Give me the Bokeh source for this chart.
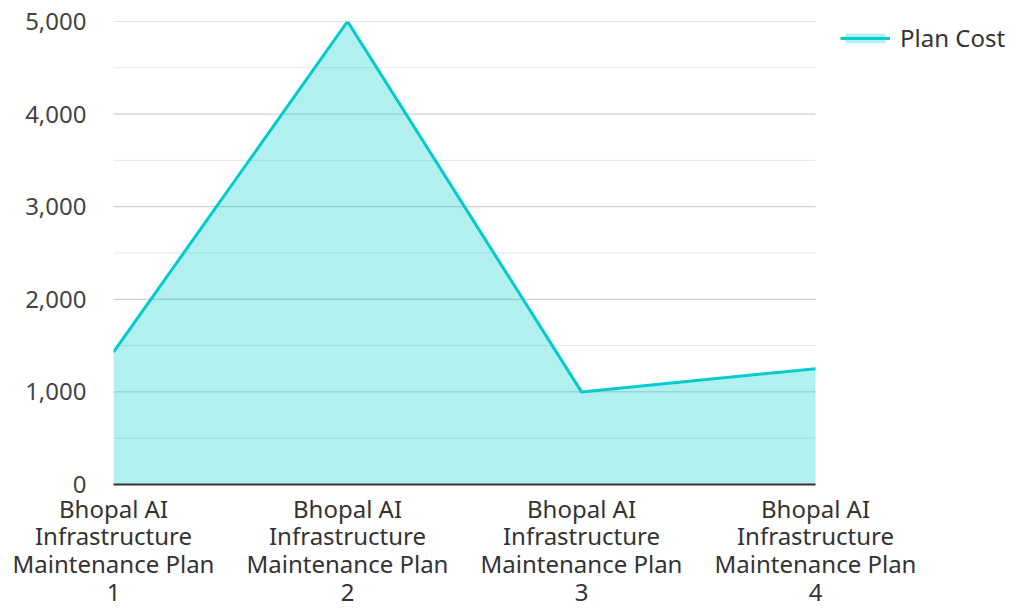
from bokeh.plotting import figure
from bokeh.models import Range1d, FixedTicker, NumeralTickFormatter, Legend, LegendItem
from bokeh.embed import file_html
from bokeh.resources import INLINE

categories = ["Bhopal AI\nInfrastructure\nMaintenance Plan\n1",
              "Bhopal AI\nInfrastructure\nMaintenance Plan\n2",
              "Bhopal AI\nInfrastructure\nMaintenance Plan\n3",
              "Bhopal AI\nInfrastructure\nMaintenance Plan\n4"]
positions = [0, 1, 2, 3]
plan_cost = [1430, 5000, 1000, 1250]
y_ticks = [0, 1000, 2000, 3000, 4000, 5000]
y_minor = [500, 1500, 2500, 3500, 4500]
series_name = "Plan Cost"

FONT = "Noto Sans"
COLOR = "#00cccc"

# the frame runs on to the right edge so the legend can sit beside the data;
# the data only spans positions[0]..positions[-1]
x_end = positions[-1] * 899 / 702

p = figure(width=1012, height=610, output_backend="svg", toolbar_location=None,
           x_range=Range1d(positions[0], x_end), y_range=Range1d(0, 5000),
           min_border_top=21, min_border_left=113, min_border_right=0,
           min_border_bottom=121)
p.outline_line_color = None
p.xgrid.grid_line_color = None
p.ygrid.grid_line_color = None

# horizontal grid lines limited to the data span
p.segment(x0=[positions[0]] * len(y_minor), x1=[positions[-1]] * len(y_minor),
          y0=y_minor, y1=y_minor, line_color="#e6e6e6", line_width=1)
p.segment(x0=[positions[0]] * len(y_ticks[1:]), x1=[positions[-1]] * len(y_ticks[1:]),
          y0=y_ticks[1:], y1=y_ticks[1:], line_color="#c4c4c4", line_width=1)

area = p.varea(x=positions, y1=[0] * len(plan_cost), y2=plan_cost,
               fill_color=COLOR, fill_alpha=0.3)
line = p.line(x=positions, y=plan_cost, line_color=COLOR, line_width=3)

p.xaxis.ticker = FixedTicker(ticks=positions)
p.xaxis.bounds = (positions[0], positions[-1])
p.xaxis.major_label_overrides = {pos: lab for pos, lab in zip(positions, categories)}
p.xaxis.major_tick_line_color = None
p.xaxis.minor_tick_line_color = None
p.xaxis.axis_line_color = "#333333"
p.xaxis.axis_line_width = 2
p.xaxis.major_label_text_font = FONT
p.xaxis.major_label_text_font_size = "24px"
p.xaxis.major_label_text_color = "#333333"
p.xaxis.major_label_text_line_height = 0.84
p.xaxis.major_label_standoff = 1

p.yaxis.ticker = FixedTicker(ticks=y_ticks, minor_ticks=y_minor)
p.yaxis.formatter = NumeralTickFormatter(format="0,0")
p.yaxis.axis_line_color = None
p.yaxis.major_tick_line_color = None
p.yaxis.minor_tick_line_color = None
p.yaxis.major_label_text_font = FONT
p.yaxis.major_label_text_font_size = "24px"
p.yaxis.major_label_text_color = "#444444"
p.yaxis.major_label_standoff = 21

legend = Legend(items=[LegendItem(label=series_name, renderers=[area, line])],
                location="top_right")
legend.label_text_font = FONT
legend.label_text_font_size = "24px"
legend.label_text_color = "#333333"
legend.glyph_width = 50
legend.glyph_height = 12
legend.label_standoff = 10
legend.label_width = 112
legend.border_line_color = None
legend.background_fill_alpha = 0
legend.margin = 0
legend.padding = 0
legend.spacing = 0
p.add_layout(legend, "center")

open("out.html", "w").write(file_html(p, INLINE))
